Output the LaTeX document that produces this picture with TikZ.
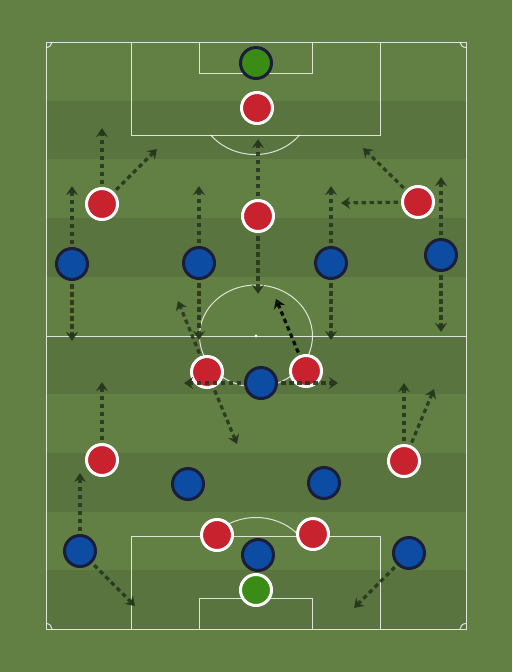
\documentclass[tikz,border=0pt]{standalone}
\usetikzlibrary{arrows.meta,shadows}
\definecolor{grass}{RGB}{98,128,67}
\definecolor{grassdark}{RGB}{90,116,64}
\definecolor{pred}{RGB}{200,34,46}
\definecolor{pblue}{RGB}{12,76,162}
\definecolor{pnavy}{RGB}{27,29,58}
\definecolor{pgreen}{RGB}{59,139,23}
\definecolor{arrowc}{RGB}{40,54,30}
\tikzset{
  pline/.style={draw=white, draw opacity=0.8, line width=1pt},
  player/.style={circle, inner sep=0pt, minimum size=31pt, line width=3pt,
    drop shadow={shadow xshift=0.6pt, shadow yshift=-1.6pt, opacity=0.25}},
  redp/.style={player, fill=pred, draw=white},
  bluep/.style={player, fill=pblue, draw=pnavy},
  gkdark/.style={player, fill=pgreen, draw=pnavy},
  gkwhite/.style={player, fill=pgreen, draw=white},
  run/.style={draw=arrowc, draw opacity=0.9, line width=3.2pt,
    dash pattern=on 4.5pt off 3.5pt, shorten <=3pt,
    -{Stealth[length=9pt,width=12pt,inset=3pt,fill=arrowc]}},
  runbold/.style={run, draw=black!85!arrowc, draw opacity=0.95}
}
\begin{document}
\begin{tikzpicture}[x=1pt,y=-1pt]
\useasboundingbox (0,0) rectangle (512,672);
\fill[grass] (0,0) rectangle (512,672);
% stripes
\foreach \k in {1,3,5,7,9}
  \fill[grassdark] (46,{42+58.7*\k}) rectangle (466,{42+58.7*(\k+1)});
% pitch lines
\draw[pline] (46,42) rectangle (466,629);
\draw[pline] (46,336) -- (466,336);
\draw[pline] (256,336) ellipse [x radius=56.5pt, y radius=51pt];
\fill[white] (256,336) circle (1.6pt);
% top boxes
\draw[pline] (131,42) -- (131,135) -- (380,135) -- (380,42);
\draw[pline] (199,42) -- (199,73) -- (312,73) -- (312,42);
\draw[pline] (299.6,135) arc[start angle=-38.1, end angle=-141.9, x radius=56.5pt, y radius=51pt];
% bottom boxes
\draw[pline] (131,629) -- (131,536) -- (380,536) -- (380,629);
\draw[pline] (199,629) -- (199,598) -- (312,598) -- (312,629);
\draw[pline] (299.5,536) arc[start angle=39.6, end angle=140.4, x radius=56.5pt, y radius=51pt];
% corner arcs
\draw[pline] (52,42) arc[start angle=0, end angle=-90, x radius=6pt, y radius=5.5pt];
\draw[pline] (460,42) arc[start angle=180, end angle=270, x radius=6pt, y radius=5.5pt];
\draw[pline] (52,629) arc[start angle=0, end angle=90, x radius=6pt, y radius=5.5pt];
\draw[pline] (460,629) arc[start angle=180, end angle=90, x radius=6pt, y radius=5.5pt];
% players
\node[gkdark] (gkT) at (256,63) {};
\node[redp] (rT1) at (257,108) {};
\node[redp] (rT2) at (102,204) {};
\node[redp] (rT3) at (258,216) {};
\node[redp] (rT4) at (418,202) {};
\node[bluep] (bT1) at (72,264) {};
\node[bluep] (bT2) at (199,263) {};
\node[bluep] (bT3) at (331,263) {};
\node[bluep] (bT4) at (441,255) {};
\node[redp] (rM1) at (207,372) {};
\node[redp] (rM2) at (306,371) {};
\node[bluep] (bM) at (261,383) {};
\node[redp] (rB1) at (102,460) {};
\node[redp] (rB2) at (404,461) {};
\node[bluep] (bB1) at (188,484) {};
\node[bluep] (bB2) at (324,483) {};
\node[redp] (rB3) at (217,535) {};
\node[redp] (rB4) at (313,534) {};
\node[bluep] (bB3) at (258,555) {};
\node[gkwhite] (gkB) at (256,590) {};
\node[bluep] (bB4) at (80,551) {};
\node[bluep] (bB5) at (409,553) {};
% arrow targets
\coordinate (t1) at (102,128);
\coordinate (t2) at (157,149);
\coordinate (t3) at (258,139);
\coordinate (t4) at (258,294);
\coordinate (t5) at (363,148);
\coordinate (t6) at (341,203);
\coordinate (t7) at (72,186);
\coordinate (t8) at (72,341);
\coordinate (t9) at (199,186);
\coordinate (t10) at (199,340);
\coordinate (t11) at (331,186);
\coordinate (t12) at (331,340);
\coordinate (t13) at (441,177);
\coordinate (t14) at (441,332);
\coordinate (t15) at (178,301);
\coordinate (t16) at (276,299);
\coordinate (t17) at (184,383);
\coordinate (t18) at (338,383);
\coordinate (t19) at (237,444);
\coordinate (t20) at (102,382);
\coordinate (t21) at (404,383);
\coordinate (t22) at (434,389);
\coordinate (t23) at (80,473);
\coordinate (t24) at (135,606);
\coordinate (t25) at (354,608);
% runs
\draw[run] (rT2) -- (t1);
\draw[run] (rT2) -- (t2);
\draw[run] (rT3) -- (t3);
\draw[run] (rT3) -- (t4);
\draw[run] (rT4) -- (t5);
\draw[run] (rT4) -- (t6);
\draw[run] (bT1) -- (t7);
\draw[run] (bT1) -- (t8);
\draw[run] (bT2) -- (t9);
\draw[run] (bT2) -- (t10);
\draw[run] (bT3) -- (t11);
\draw[run] (bT3) -- (t12);
\draw[run] (bT4) -- (t13);
\draw[run] (bT4) -- (t14);
\draw[run] (rM1) -- (t15);
\draw[runbold] (rM2) -- (t16);
\draw[run] (bM) -- (t17);
\draw[run] (bM) -- (t18);
\draw[run] (rM1) -- (t19);
\draw[run] (rB1) -- (t20);
\draw[run] (rB2) -- (t21);
\draw[run] (rB2) -- (t22);
\draw[run] (bB4) -- (t23);
\draw[run] (bB4) -- (t24);
\draw[run] (bB5) -- (t25);
\end{tikzpicture}
\end{document}
